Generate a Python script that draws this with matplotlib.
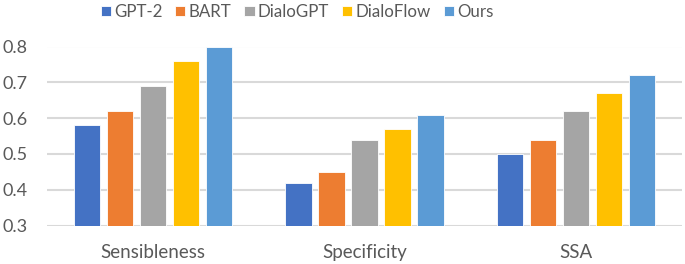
import matplotlib
matplotlib.use("Agg")
import matplotlib.pyplot as plt
import numpy as np

categories = ["Sensibleness", "Specificity", "SSA"]
models = ["GPT-2", "BART", "DialoGPT", "DialoFlow", "Ours"]
gpt2 = [0.58, 0.42, 0.50]
bart = [0.62, 0.45, 0.54]
dialogpt = [0.69, 0.54, 0.62]
dialoflow = [0.76, 0.57, 0.67]
ours = [0.80, 0.61, 0.72]
yticks = [0.3, 0.4, 0.5, 0.6, 0.7, 0.8]

series = [gpt2, bart, dialogpt, dialoflow, ours]
colors = ["#4472C4", "#ED7D31", "#A5A5A5", "#FFC000", "#5B9BD5"]

plt.rcParams["font.family"] = ["Lato", "DejaVu Sans"]
fig = plt.figure(figsize=(6.85, 2.64), dpi=100)
ax = fig.add_axes([47/685, 1 - 225.5/264, 635/685, (225.5 - 46.5)/264])

x = np.arange(len(categories))
slot = 0.156
width = 0.124
for i, (vals, c, name) in enumerate(zip(series, colors, models)):
    offs = (i - 2) * slot
    ax.bar(x + offs, np.array(vals) - 0.3, width, bottom=0.3, color=c,
           edgecolor="white", linewidth=0.6, label=name, zorder=3)

ax.set_xlim(-0.5, 2.5)
ax.set_ylim(0.3, 0.8)
ax.set_yticks(yticks)
ax.set_yticklabels([f"{v:.1f}" for v in yticks])
ax.set_xticks(x)
ax.set_xticklabels(categories)
ax.yaxis.grid(True, color="#D9D9D9", linewidth=1.5, zorder=0)
ax.set_axisbelow(True)
for s in ax.spines.values():
    s.set_visible(False)
ax.tick_params(axis="both", length=0, colors="#595959")
ax.tick_params(axis="y", pad=14, labelsize=13)
ax.tick_params(axis="x", pad=13, labelsize=13.5)

leg = fig.legend(loc="center", bbox_to_anchor=(297/685, 1 - 12/264), ncol=5,
                 frameon=False, fontsize=12.2, handlelength=0.6, handleheight=0.6,
                 handletextpad=0.2, columnspacing=0.75, borderaxespad=0)
for t in leg.get_texts():
    t.set_color("#595959")

fig.savefig("out.png", dpi=100)
